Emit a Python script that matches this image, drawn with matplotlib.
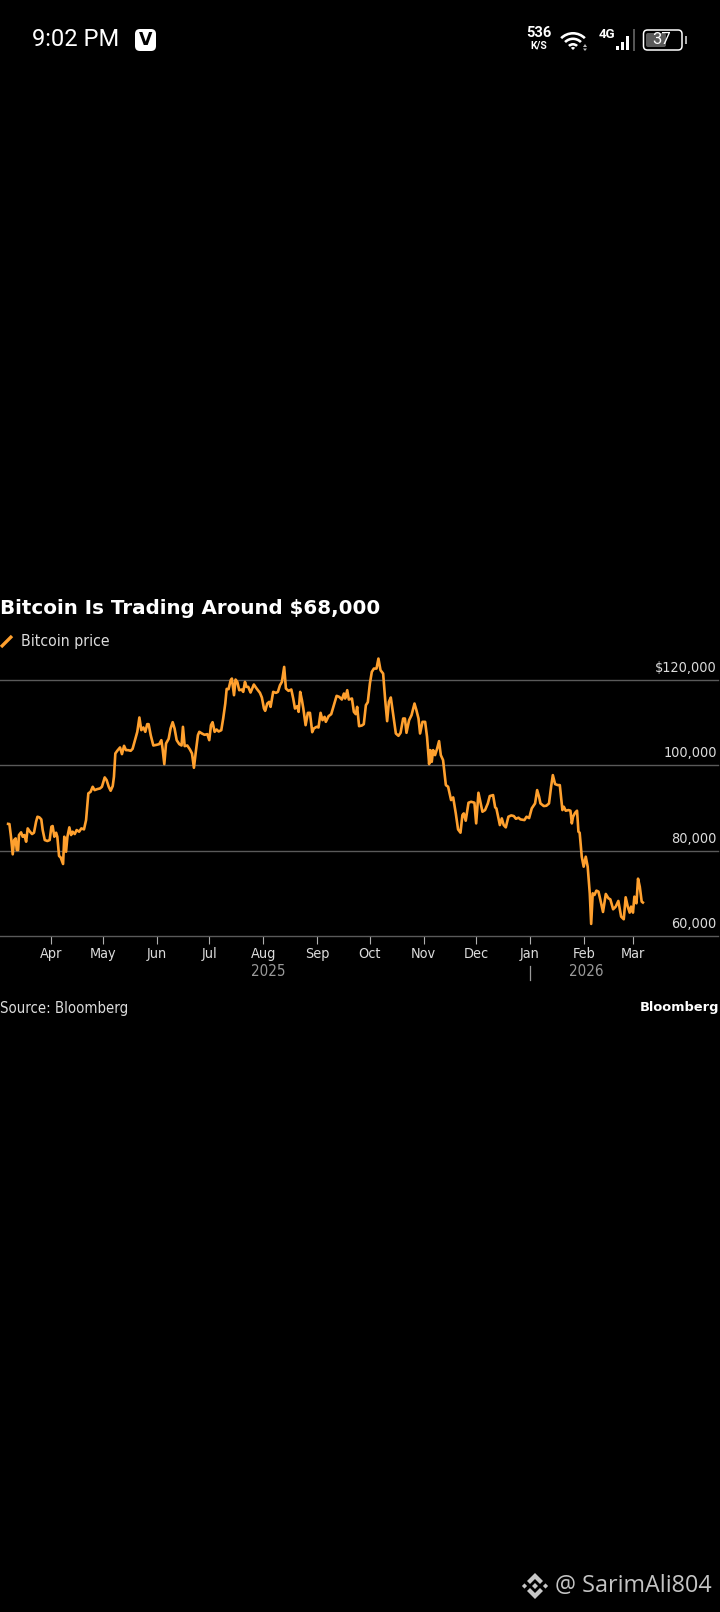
import matplotlib
matplotlib.use("Agg")
import matplotlib.pyplot as plt
from matplotlib.patches import Polygon, FancyBboxPatch, Rectangle, Wedge
from matplotlib.transforms import ScaledTranslation

TITLE = "Bitcoin Is Trading Around $68,000"
SERIES_NAME = "Bitcoin price"
SOURCE = "Source: Bloomberg"
BRAND = "Bloomberg"
MONTHS = ["Apr", "May", "Jun", "Jul", "Aug", "Sep", "Oct", "Nov", "Dec", "Jan", "Feb", "Mar"]
MONTH_DAYS = [0, 30, 61, 91, 122, 153, 183, 214, 244, 275, 306, 334]
Y_TICKS = [60000, 80000, 100000, 120000]
Y_LABELS = ["60,000", "80,000", "100,000", "$120,000"]

# days since 1 Apr 2025
days = [-25.2,-23.7,-22.8,-21.8,-21.0,-20.1,-19.5,-18.7,-18.2,-17.0,-16.1,-15.1,-14.1,-13.2,-11.9,-10.7,-9.6,-8.4,-7.6,-6.5,
-5.4,-4.6,-3.4,-1.9,-0.6,0.4,1.1,2.1,3.1,3.8,4.8,5.7,7.1,7.8,8.8,9.6,10.7,11.7,12.6,13.8,
14.9,16.3,17.6,19.1,20.3,21.6,22.9,24.1,25.2,26.8,28.3,29.4,31.0,32.1,33.3,34.4,35.6,36.3,37.1,38.2,
39.8,40.9,42.1,43.2,44.4,45.9,47.0,48.4,49.7,50.9,52.0,53.2,54.3,55.4,56.2,57.4,58.9,60.8,62.3,63.5,
64.2,65.2,66.2,67.7,68.8,70.0,71.1,72.3,73.8,75.1,75.9,76.9,78.4,79.9,81.1,82.2,83.4,84.5,85.3,86.8,
88.3,89.9,91.0,92.0,92.9,94.1,95.2,96.4,97.9,99.0,100.2,101.0,102.1,103.3,104.0,105.2,106.1,107.1,108.2,109.6,
110.5,111.5,112.4,113.4,114.7,116.6,118.2,120.1,121.2,122.4,123.1,124.3,125.4,126.2,127.7,129.3,130.4,131.6,132.7,134.0,
135.0,136.5,138.1,139.2,140.2,141.5,142.3,143.2,144.2,145.0,146.3,147.6,148.8,150.1,151.0,152.6,153.7,154.9,156.0,157.2,
157.9,159.5,161.0,162.5,164.1,165.6,167.1,168.3,169.0,170.2,171.1,172.9,174.0,175.1,175.9,177.0,178.6,179.7,180.9,182.0,
183.2,184.3,185.5,187.0,188.1,189.3,190.8,192.0,193.1,194.1,195.2,196.6,198.1,199.6,200.8,202.3,203.3,204.2,205.7,207.1,
208.8,209.9,211.1,212.0,213.4,214.9,216.0,217.2,217.9,218.7,219.5,220.6,221.8,222.9,223.9,225.2,226.8,228.1,229.8,231.0,
232.5,233.8,235.2,236.3,237.1,238.2,239.8,241.3,243.2,244.2,245.5,247.8,249.3,250.9,252.0,253.9,255.1,255.8,257.8,258.9,
260.0,261.2,262.7,264.3,265.8,267.0,268.5,269.6,271.9,273.1,274.6,276.1,278.0,279.2,280.3,281.1,283.0,284.5,286.0,287.2,
288.2,289.5,291.0,292.2,293.7,294.5,295.6,297.2,298.3,299.1,299.8,301.0,302.1,302.9,303.6,304.8,305.9,307.1,308.2,309.4,
310.2,311.1,312.1,313.2,314.4,315.5,317.0,318.6,320.1,321.2,322.8,324.3,325.8,327.4,328.9,330.0,331.2,332.3,333.1,334.2,
335.0,336.2,337.1,338.1,339.2,340.5]

prices = [86300,86230,83260,79130,82480,82870,80140,80140,83650,84280,83260,83650,82090,85210,84430,83890,84200,86770,87940,87790,
87320,84820,82480,82250,82480,85600,85760,83260,84200,83260,78740,78430,76870,83260,79750,83260,85450,83650,84430,83890,
84820,84430,85210,84980,87160,93400,93790,94960,94180,94420,94570,94960,97150,96520,94960,94030,95120,97300,102760,103390,
104170,102610,104560,103540,103540,103390,103850,105880,107830,111190,108220,108850,107830,109630,109630,107050,104630,104790,104950,105880,
103930,100270,105100,106190,108610,110090,108610,105880,104950,104630,109000,104480,104630,103700,102760,99410,103540,107050,107830,107440,
107130,107290,105880,109390,110090,107830,108380,107910,108220,110950,114460,117890,117820,119920,120310,116410,120080,119530,117580,117740,
117190,119530,118360,118360,117040,118910,117970,116960,115870,113290,112750,114460,114850,113680,117190,116960,117190,118750,119530,123040,
117970,117430,117740,115630,113290,113840,112510,117190,115240,113290,109390,112280,112280,107750,108610,109000,108850,112280,110560,111340,
110170,111500,111970,114070,116260,116020,115400,116800,115630,117580,115400,115630,112510,111970,113680,109160,109310,109630,114070,114770,
119140,121870,122650,122650,124990,122260,121480,115240,110330,114850,115870,111730,107440,106900,107600,110950,110950,107600,110560,111730,
114460,112900,110950,107440,110170,110170,106660,100270,103540,100810,103540,102370,103930,105650,102370,101200,95350,94960,91840,92470,
88720,84980,84200,88330,88720,87010,91220,91450,91220,86380,93560,89110,89500,91060,92780,93010,90130,89890,85990,87550,
85990,85450,87940,88250,88100,87470,87710,87320,87160,87940,87630,89890,91060,94180,92620,91060,90440,90520,91060,94960,
97690,95590,95350,95350,89500,90280,89350,89500,89350,86380,87940,88880,89350,84430,84200,78580,76240,78580,76240,70000,
62830,70000,69610,70630,70390,68440,65630,69850,68830,68600,66260,66880,68210,64540,63920,69070,66880,65480,66880,65480,
69220,67660,73430,71560,68050,67660]

W, H = 720, 1612
ORANGE = "#FFA02E"
GRID = "#5a5a5a"
LABEL = "#dcdcdc"
FONT = dict(family="DejaVu Sans", stretch="condensed")

fig = plt.figure(figsize=(W / 100, H / 100), dpi=100, facecolor="black")

# chart axes: x 0-718 px, y 650-936 px
ax = fig.add_axes([0, 1 - 936 / H, 718 / W, 286 / H], facecolor="black")
ax.set_xlim(-29.1, 383)
ax.set_ylim(60000, 127000)
for s in ax.spines.values():
    s.set_visible(False)
ax.set_yticks(Y_TICKS, Y_LABELS)
ax.yaxis.tick_right()
ax.tick_params(axis="y", length=0, pad=-1, labelsize=10.4, labelcolor=LABEL)
lift = ScaledTranslation(0, 5.0 / 100, fig.dpi_scale_trans)
for t in ax.get_yticklabels():
    t.set_horizontalalignment("right")
    t.set_verticalalignment("bottom")
    t.set_fontstretch("condensed")
    t.set_transform(t.get_transform() + lift)
ax.set_xticks(MONTH_DAYS, MONTHS)
ax.tick_params(axis="x", length=5.8, width=0.8, color="#b0b0b0", pad=2.2, labelsize=10.4, labelcolor=LABEL)
for t in ax.get_xticklabels():
    t.set_fontstretch("condensed")
ax.grid(axis="y", color=GRID, lw=1.0)
for gl in ax.get_ygridlines():
    gl.set_clip_on(False)
ax.set_axisbelow(True)
ax.plot(days, prices, color=ORANGE, lw=1.9, solid_joinstyle="round", solid_capstyle="butt", clip_on=False)

# overlay in pixel coordinates for furniture
ov = fig.add_axes([0, 0, 1, 1], facecolor="none")
ov.set_xlim(0, W)
ov.set_ylim(H, 0)
ov.axis("off")

ov.text(0, 608, TITLE, color="white", fontsize=14.35, fontweight="bold", family="DejaVu Sans", va="center", ha="left")
ov.plot([1, 12], [647, 636], color=ORANGE, lw=2.4, solid_capstyle="butt")
ov.text(21, 641.5, SERIES_NAME, color=LABEL, fontsize=11.3, va="center", ha="left", **FONT)

ov.text(268.6, 971, "2025", color="#9a9a9a", fontsize=10.9, va="center", ha="center", **FONT)
ov.text(586, 971, "2026", color="#9a9a9a", fontsize=10.9, va="center", ha="center", **FONT)
ov.plot([530, 530], [966, 980], color="#9a9a9a", lw=0.9)
ov.text(0, 1009, SOURCE, color=LABEL, fontsize=10.7, va="center", ha="left", **FONT)
ov.text(719, 1007, BRAND, color="white", fontsize=9.4, fontweight="bold", va="center", ha="right", family="DejaVu Sans")

# status bar
ov.text(32, 40, "9:02 PM", color="white", fontsize=17.0, family="Roboto", va="center", ha="left")
ov.add_patch(FancyBboxPatch((138, 32), 15, 16, boxstyle="round,pad=3,rounding_size=5", fc="white", ec="none"))
ov.text(145.5, 40, "V", color="black", fontsize=12.5, fontweight="bold", family="DejaVu Sans", va="center", ha="center")
ov.text(539, 33, "536", color="white", fontsize=10.5, fontweight="bold", family="Roboto", va="center", ha="center")
ov.text(539, 45.5, "K/S", color="white", fontsize=7.5, fontweight="bold", family="Roboto", va="center", ha="center")
for r, w in [(18, 2.6), (12.5, 2.6), (7, 2.6)]:
    ov.add_patch(Wedge((573, 50), r, 225, 315, width=w, fc="white", ec="none"))
ov.add_patch(Wedge((573, 50), 3, 225, 315, fc="white", ec="none"))
ov.add_patch(Polygon([(583, 47), (587, 47), (585, 44)], fc="#bbbbbb", ec="none"))
ov.add_patch(Polygon([(583, 48.5), (587, 48.5), (585, 51)], fc="#bbbbbb", ec="none"))
ov.text(607, 35, "4G", color="white", fontsize=9.5, fontweight="bold", family="Roboto", va="center", ha="center")
for x0, top in [(616, 46), (621, 41.5), (626, 36)]:
    ov.add_patch(Rectangle((x0, top), 3, 50 - top, fc="white", ec="none"))
ov.add_patch(Rectangle((633, 29), 2.2, 22, fc="#555555", ec="none"))
ov.add_patch(FancyBboxPatch((643.5, 30), 38.5, 20, boxstyle="round,pad=0,rounding_size=4", fc="black", ec="white", lw=1.1))
ov.add_patch(FancyBboxPatch((646, 33), 20, 14, boxstyle="round,pad=0,rounding_size=2", fc="#5a5a5a", ec="none"))
ov.add_patch(Rectangle((684.5, 36), 2.2, 8, fc="#b0b0b0", ec="none"))
ov.text(661.5, 40, "37", color="white", fontsize=12, family="Roboto", va="center", ha="center")

# watermark
LOGO = "#c8c8c8"
cx, cy = 535, 1586
ov.add_patch(Polygon([(cx - 8, cy - 5), (cx, cy - 13), (cx + 8, cy - 5), (cx + 5, cy - 2), (cx, cy - 7), (cx - 5, cy - 2)], fc=LOGO, ec="none"))
ov.add_patch(Polygon([(cx - 8, cy + 5), (cx, cy + 13), (cx + 8, cy + 5), (cx + 5, cy + 2), (cx, cy + 7), (cx - 5, cy + 2)], fc=LOGO, ec="none"))
for dx in (-10.5, 10.5):
    ov.add_patch(Polygon([(cx + dx - 2.6, cy), (cx + dx, cy - 2.6), (cx + dx + 2.6, cy), (cx + dx, cy + 2.6)], fc=LOGO, ec="none"))
ov.add_patch(Polygon([(cx - 3, cy), (cx, cy - 3), (cx + 3, cy), (cx, cy + 3)], fc=LOGO, ec="none"))
ov.text(555, 1586, "@ SarimAli804", color="#c4c4c4", fontsize=16.8, family="Open Sans", va="center", ha="left")

fig.savefig("out.png", dpi=100, facecolor="black")
